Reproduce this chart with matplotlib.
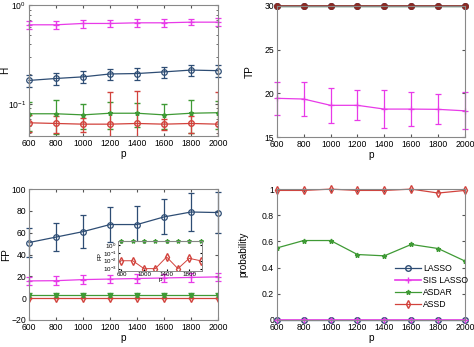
import matplotlib.pyplot as plt
import numpy as np

plt.rcParams['font.family'] = ['Liberation Sans', 'DejaVu Sans']

# data
p = [600, 800, 1000, 1200, 1400, 1600, 1800, 2000]

# H (log scale)
h_lasso = [0.172, 0.18, 0.187, 0.20, 0.202, 0.21, 0.219, 0.216]
h_lasso_err = [0.025, 0.025, 0.025, 0.027, 0.027, 0.027, 0.028, 0.03]
h_sis = [0.63, 0.63, 0.65, 0.65, 0.66, 0.66, 0.67, 0.67]
h_sis_err = [0.055, 0.055, 0.06, 0.055, 0.06, 0.055, 0.05, 0.06]
h_asdar = [0.079, 0.079, 0.077, 0.08, 0.08, 0.077, 0.08, 0.081]
h_asdar_err = [0.026, 0.03, 0.022, 0.025, 0.022, 0.022, 0.03, 0.025]
h_assd = [0.064, 0.063, 0.062, 0.062, 0.063, 0.062, 0.063, 0.062]
h_assd_err = [0.012, 0.012, 0.01, 0.07, 0.07, 0.008, 0.012, 0.07]

# TP
tp_sis = [19.43, 19.35, 18.63, 18.63, 18.2, 18.2, 18.17, 18.0]
tp_sis_err = [1.85, 1.9, 2.0, 1.7, 2.2, 1.9, 1.7, 2.1]
tp_full = [30, 30, 30, 30, 30, 30, 30, 30]

# FP
fp_lasso = [51, 56, 61, 67.5, 67.5, 74.5, 79, 78.5]
fp_lasso_err = [13, 13, 15, 16, 17, 16, 17, 19]
fp_sis = [15.8, 16, 17, 17.5, 18, 18.5, 19, 19.5]
fp_sis_err = [4, 4, 4, 4, 4, 4, 4, 4]
fp_asdar = [2.5, 2.5, 2.5, 2.5, 2.5, 2.5, 2.5, 2.5]
fp_asdar_err = [2, 2, 2, 2, 2, 2, 2, 2]
fp_assd = [0, 0, 0, 0, 0, 0, 0, 0]
# inset (log scale)
fp_asdar_in = [3, 3, 3, 3, 3, 3, 3, 3]
fp_assd_in = [0.01, 0.01, 0.001, 0.001, 0.03, 0.001, 0.02, 0.01]

# probability
pr_lasso = [0, 0, 0, 0, 0, 0, 0, 0]
pr_sis = [0, 0, 0, 0, 0, 0, 0, 0]
pr_asdar = [0.55, 0.607, 0.607, 0.50, 0.49, 0.577, 0.546, 0.45]
pr_assd = [0.99, 0.99, 1.0, 0.99, 0.99, 1.0, 0.97, 0.99]

c_lasso = '#2e4d74'
c_sis = '#e83ae8'
c_asdar = '#3f9a35'
c_assd = '#d2423c'
fs = 6.2

fig = plt.figure(figsize=(4.74, 3.47), dpi=100)


def style(ax, ylab, ylab_x):
    ax.tick_params(direction='in', top=True, right=True, labelsize=fs,
                   length=2.5, color='#555555', pad=2)
    ax.tick_params(which='minor', direction='in', top=True, right=True,
                   length=1.5, color='#555555')
    for s in ax.spines.values():
        s.set_color('#888888')
        s.set_linewidth(0.8)
    ax.set_xlim(600, 2000)
    ax.set_xticks(p)
    ax.set_xlabel('p', fontsize=fs + 1, labelpad=1)
    ax.set_ylabel(ylab, fontsize=fs + 1)
    ax.yaxis.set_label_coords(ylab_x, 0.5)


def eb(ax, y, err, color, marker, ms=4):
    ax.errorbar(p, y, yerr=err, color=color, marker=marker, ms=ms,
                mfc='none', mew=0.9, lw=0.9, capsize=2.5, elinewidth=0.9,
                clip_on=False)


# top-left: H
ax1 = fig.add_axes([0.0612, 0.608, 0.3988, 0.3776])
eb(ax1, h_lasso, h_lasso_err, c_lasso, 'o')
eb(ax1, h_sis, h_sis_err, c_sis, '+')
ax1.errorbar(p, h_asdar, yerr=h_asdar_err, color=c_asdar, marker='*', ms=3.5,
             lw=0.9, capsize=2.5, elinewidth=0.9)
ax1.errorbar(p, h_assd, yerr=h_assd_err, color=c_assd, marker='o', ms=4,
             lw=0.9, capsize=2.5, elinewidth=0.9, mfc='none')
ax1.set_yscale('log')
ax1.set_ylim(0.047, 1)
style(ax1, 'H', -0.10)

# top-right: TP
ax2 = fig.add_axes([0.584, 0.605, 0.397, 0.378])
ax2.plot(p, tp_full, color=c_lasso, marker='o', ms=4, mfc='none', lw=0.9, clip_on=False)
ax2.plot(p, tp_full, color=c_asdar, marker='*', ms=3.5, lw=0.9, clip_on=False)
ax2.plot(p, tp_full, color='#8b2a24', marker='o', ms=4, lw=1.2, clip_on=False)
eb(ax2, tp_sis, tp_sis_err, c_sis, '+')
ax2.set_ylim(15, 30)
ax2.set_yticks([15, 20, 25, 30])
style(ax2, 'TP', -0.115)

# bottom-left: FP
ax3 = fig.add_axes([0.0612, 0.078, 0.3988, 0.377])
eb(ax3, fp_lasso, fp_lasso_err, c_lasso, 'o')
eb(ax3, fp_sis, fp_sis_err, c_sis, '+')
ax3.errorbar(p, fp_asdar, yerr=fp_asdar_err, color=c_asdar, marker='*', ms=3.5,
             lw=0.9, capsize=2.5, elinewidth=0.9)
ax3.plot(p, fp_assd, color=c_assd, marker='d', ms=4, mfc='none', lw=0.9)
ax3.set_ylim(-20, 100)
ax3.set_yticks([-20, 0, 20, 40, 60, 80, 100])
style(ax3, 'FP', -0.095)

# inset
axi = fig.add_axes([0.249, 0.219, 0.177, 0.0865])
axi.plot(p, fp_asdar_in, color=c_asdar, marker='*', ms=3, lw=0.8, clip_on=False)
axi.plot(p, fp_assd_in, color=c_assd, marker='d', ms=4, mfc='none', lw=0.7)
axi.set_yscale('log')
axi.set_ylim(10 ** -3.3, 10 ** 0.5)
axi.set_xlim(540, 2025)
axi.set_yticks([1e-3, 1e-2, 1e-1, 1e0])
axi.minorticks_off()
axi.tick_params(direction='in', top=True, right=True, labelsize=4.5,
                length=1.5, pad=1)
axi.set_xticks([600, 1000, 1400, 1800])
axi.set_ylabel('FP', fontsize=4.5, labelpad=0)
axi.set_xlabel('p', fontsize=4.5, labelpad=0)
for s in axi.spines.values():
    s.set_color('#888888')
    s.set_linewidth(0.7)

# bottom-right: probability
ax4 = fig.add_axes([0.584, 0.078, 0.397, 0.377])
ax4.plot(p, pr_lasso, color=c_lasso, marker='o', ms=4, mfc='none', lw=0.9,
         label='LASSO', clip_on=False)
ax4.plot(p, pr_sis, color=c_sis, marker='+', ms=4, lw=1.2,
         label='SIS LASSO', clip_on=False)
ax4.plot(p, pr_asdar, color=c_asdar, marker='*', ms=3.5, lw=0.9, label='ASDAR')
ax4.plot(p, pr_assd, color=c_assd, marker='d', ms=4, mfc='none', lw=0.9,
         label='ASSD', clip_on=False)
ax4.set_ylim(0, 1)
ax4.set_yticks([0, 0.2, 0.4, 0.6, 0.8, 1])
ax4.set_yticklabels(['0', '0.2', '0.4', '0.6', '0.8', '1'])
style(ax4, 'probability', -0.15)
ax4.legend(loc='upper left', bbox_to_anchor=(0.6, 0.47), fontsize=fs,
           frameon=False, handlelength=3.0, labelspacing=0.35, borderpad=0.1,
           handletextpad=0.3)

fig.savefig('out.png', dpi=100)
